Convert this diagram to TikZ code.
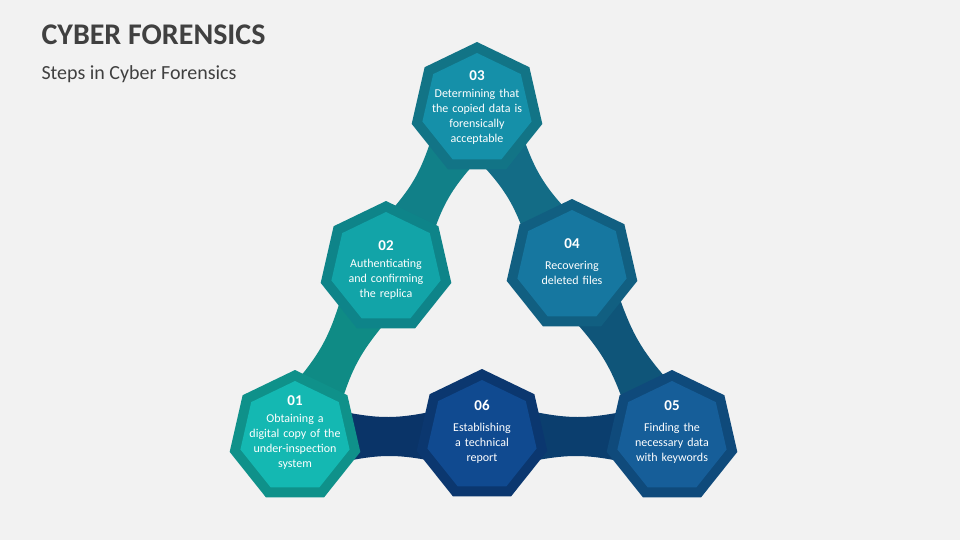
\documentclass[tikz,border=0pt]{standalone}
\usepackage{fontspec}
\setmainfont{Carlito}
\usetikzlibrary{shapes.geometric,calc}
\definecolor{bg}{HTML}{F2F2F2}
\definecolor{ttl}{HTML}{404040}
\definecolor{fA}{HTML}{14B8B2}\definecolor{rA}{HTML}{0F918A}
\definecolor{fB}{HTML}{12A4A8}\definecolor{rB}{HTML}{0E8489}
\definecolor{fC}{HTML}{1590A9}\definecolor{rC}{HTML}{127486}
\definecolor{fD}{HTML}{1677A0}\definecolor{rD}{HTML}{115F81}
\definecolor{fE}{HTML}{165E99}\definecolor{rE}{HTML}{0F4A7B}
\definecolor{fF}{HTML}{104A90}\definecolor{rF}{HTML}{0B376F}
\definecolor{bAB}{HTML}{0F8B85}\definecolor{bBC}{HTML}{118088}
\definecolor{bCD}{HTML}{136C86}\definecolor{bDE}{HTML}{0F5579}
\definecolor{bEF}{HTML}{0B3E6E}\definecolor{bFA}{HTML}{0A3468}
\tikzset{
 hepo/.style={regular polygon,regular polygon sides=7,inner sep=0pt,minimum size=134pt},
 hepi/.style={regular polygon,regular polygon sides=7,inner sep=0pt,minimum size=112pt},
 txt/.style={text=white,align=center,font=\fontsize{12}{15}\selectfont,text width=100pt},
}
\newcommand\myband[3]{%
 \fill[#3] ($(#1)!36pt!90:(#2)$) .. controls ($($(#1)!0.5!(#2)$)!14pt!90:(#2)$) .. ($(#2)!36pt!-90:(#1)$)
 -- ($(#2)!36pt!90:(#1)$) .. controls ($($(#1)!0.5!(#2)$)!14pt!-90:(#2)$) .. ($(#1)!36pt!-90:(#2)$) -- cycle;}
\begin{document}
\begin{tikzpicture}[x=1pt,y=-1pt]
\fill[bg] (0,0) rectangle (960,540);
\useasboundingbox (0,0) rectangle (960,540);
\node[anchor=west,text=ttl,font=\fontsize{30}{34}\selectfont\bfseries] (title) at (38,35) {CYBER FORENSICS};
\node[anchor=west,text=ttl,font=\fontsize{20}{24}\selectfont] (sub) at (38,74) {Steps in Cyber Forensics};
\coordinate (c1) at (295,437);
\coordinate (c2) at (386,268);
\coordinate (c3) at (477,109);
\coordinate (c4) at (572,266);
\coordinate (c5) at (672,437);
\coordinate (c6) at (482,436);
\myband{c1}{c2}{bAB}
\myband{c2}{c3}{bBC}
\myband{c3}{c4}{bCD}
\myband{c4}{c5}{bDE}
\myband{c5}{c6}{bEF}
\myband{c6}{c1}{bFA}
\foreach \c/\f/\r in {c1/fA/rA,c2/fB/rB,c3/fC/rC,c4/fD/rD,c5/fE/rE,c6/fF/rF}{
 \node[hepo,fill=\r] (o\c) at (\c) {};
 \node[hepi,fill=\f] (i\c) at (\c) {};
}
\node[txt] (t1) at (295,433) {\textbf{\fontsize{15}{18}\selectfont 01}\\[2pt]Obtaining a\\digital copy of the\\under-inspection\\system};
\node[txt] (t2) at (386,270) {\textbf{\fontsize{15}{18}\selectfont 02}\\[2pt]Authenticating\\and confirming\\the replica};
\node[txt] (t3) at (477,108) {\textbf{\fontsize{15}{18}\selectfont 03}\\[2pt]Determining that\\the copied data is\\forensically\\acceptable};
\node[txt] (t4) at (572,262) {\textbf{\fontsize{15}{18}\selectfont 04}\\[6pt]Recovering\\deleted files};
\node[txt] (t5) at (672,432) {\textbf{\fontsize{15}{18}\selectfont 05}\\[6pt]Finding the\\necessary data\\with keywords};
\node[txt] (t6) at (482,432) {\textbf{\fontsize{15}{18}\selectfont 06}\\[6pt]Establishing\\a technical\\report};
\end{tikzpicture}
\end{document}
